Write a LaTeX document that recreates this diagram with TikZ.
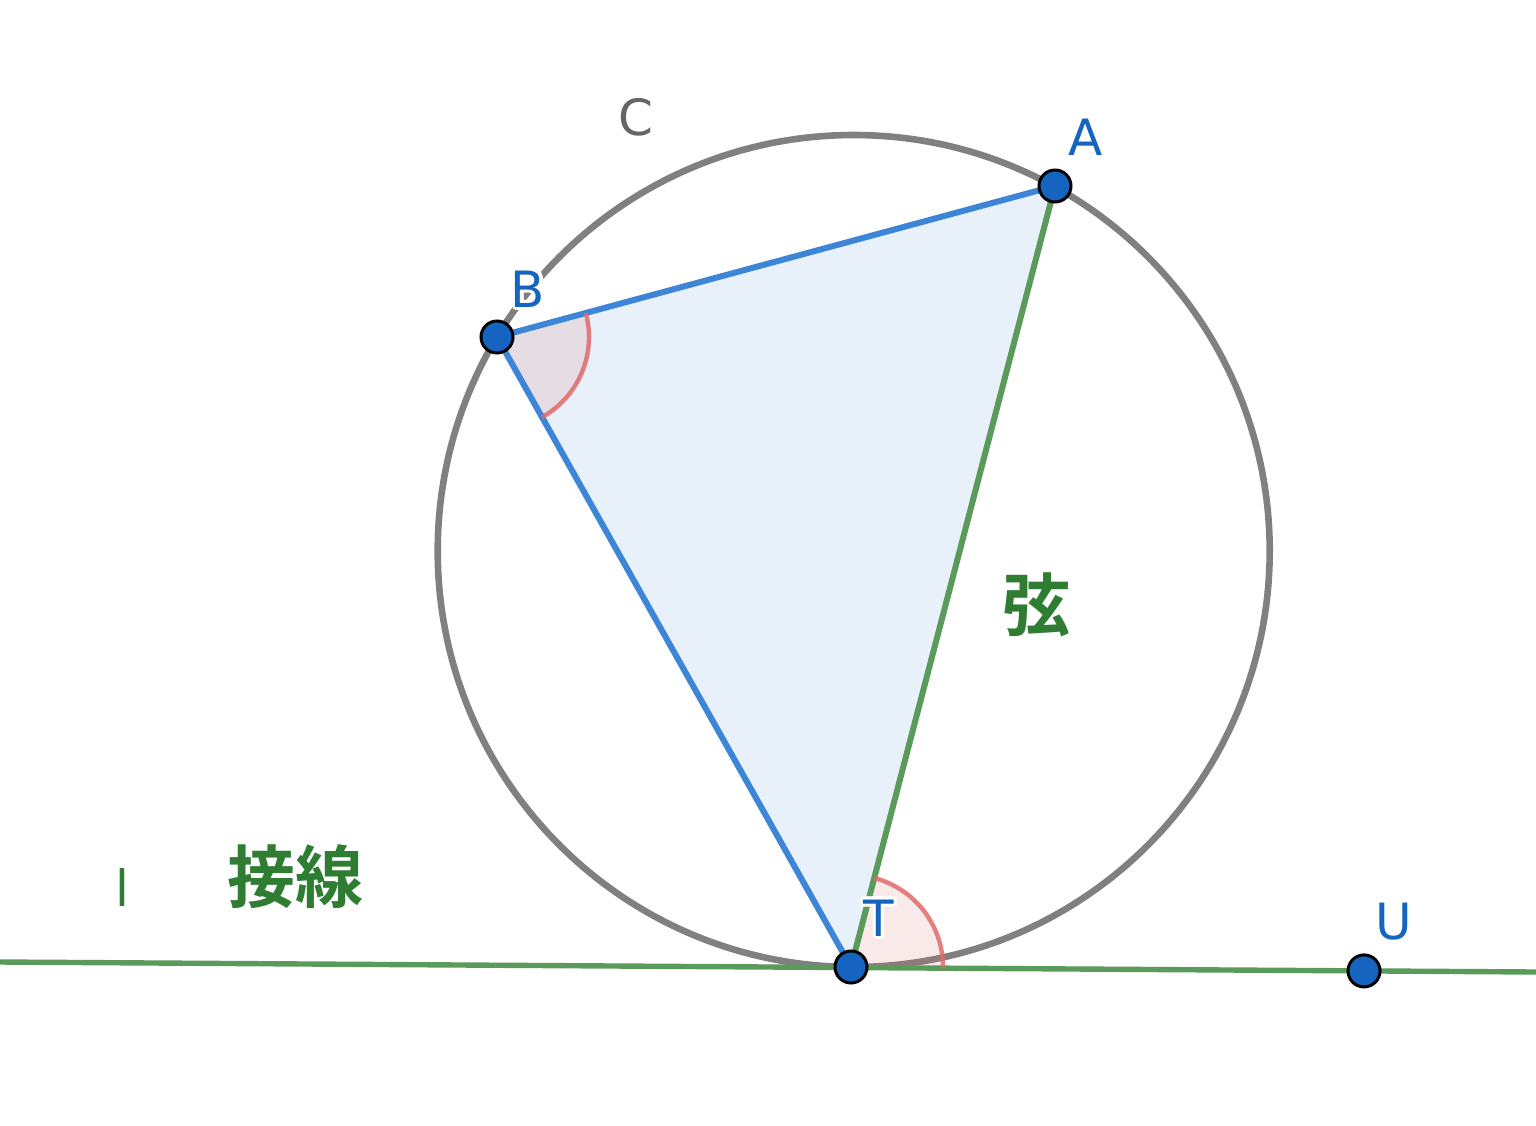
\documentclass[tikz,border=0pt]{standalone}
\usepackage{fontspec}
\setmainfont{DejaVu Sans}
\newfontfamily\cjk{Noto Sans CJK JP Bold}
\definecolor{gcirc}{HTML}{808080}
\definecolor{bline}{HTML}{3D85D6}
\definecolor{gline}{HTML}{5A9A5A}
\definecolor{tfill}{HTML}{E8F0FA}
\definecolor{rarc}{HTML}{E06A6A}
\definecolor{ptblue}{HTML}{1565C0}
\definecolor{gtext}{HTML}{2E7D32}
\definecolor{ctext}{HTML}{666666}
\tikzset{
  lbl/.style={inner sep=0pt,font=\fontsize{25}{30}\selectfont},
  cjklbl/.style={inner sep=0pt,font=\cjk\fontsize{34}{40}\selectfont,text=gtext},
  pt/.style={circle,draw=black,line width=1.5pt,fill=ptblue,minimum size=16pt,inner sep=0pt},
}
\newcommand\hcopy[3]{\rlap{\kern#1\raisebox{#2}{\color{white}#3}}}
\newcommand\halo[2]{%
  \hcopy{1.6pt}{0pt}{#2}\hcopy{-1.6pt}{0pt}{#2}%
  \hcopy{0pt}{1.6pt}{#2}\hcopy{0pt}{-1.6pt}{#2}%
  \hcopy{1.13pt}{1.13pt}{#2}\hcopy{-1.13pt}{1.13pt}{#2}%
  \hcopy{1.13pt}{-1.13pt}{#2}\hcopy{-1.13pt}{-1.13pt}{#2}%
  {\color{#1}#2}}
\begin{document}
\begin{tikzpicture}[x=0.5pt,y=-0.5pt]
\useasboundingbox (0,0) rectangle (1536,1125);
\coordinate (O) at (853.7,551);
\coordinate (A) at (1055,186);
\coordinate (B) at (497,337);
\coordinate (T) at (851,967);
\coordinate (U) at (1364,970.9);
\coordinate (L1) at (0,962);
\coordinate (L2) at (1536,972);
% circle
\draw[gcirc,line width=3.3pt] (O) circle[radius=208pt];
% triangle fill
\fill[tfill] (A) -- (B) -- (T) -- cycle;
% angle fills
\fill[rarc,opacity=0.15] (B) -- ++(-60.7:46pt) arc[start angle=-60.7,end angle=15.1,radius=46pt] -- cycle;
\fill[rarc,opacity=0.15] (T) -- ++(-0.44:46pt) arc[start angle=-0.44,end angle=75.36,radius=46pt] -- cycle;
% lines
\draw[gline,line width=2.7pt] (L1) -- (L2);
\draw[bline,line width=3pt] (B) -- (A);
\draw[bline,line width=3pt] (B) -- (T);
\draw[gline,line width=3pt] (T) -- (A);
% angle arcs
\draw[rarc,line width=2.2pt,opacity=0.85] (B) ++(-60.7:46pt) arc[start angle=-60.7,end angle=15.1,radius=46pt];
\draw[rarc,line width=2.2pt,opacity=0.85] (T) ++(-0.44:46pt) arc[start angle=-0.44,end angle=75.36,radius=46pt];
% points
\node[pt] (pA) at (A) {};
\node[pt] (pB) at (B) {};
\node[pt] (pT) at (T) {};
\node[pt] (pU) at (U) {};
% labels
\node[lbl] (lC) at (636,117) {\halo{ctext}{C}};
\node[lbl] (lA) at (1086,137) {\halo{ptblue}{A}};
\node[lbl] (lB) at (528,289) {\halo{ptblue}{B}};
\node[lbl] (lT) at (879,918) {\halo{ptblue}{T}};
\node[lbl] (lU) at (1394,922) {\halo{ptblue}{U}};
\node[lbl,text=gtext] (ll) at (122,887) {l};
\node[cjklbl] (chord) at (1036,605) {弦};
\node[cjklbl] (tangent) at (295,877) {接線};
\end{tikzpicture}
\end{document}
